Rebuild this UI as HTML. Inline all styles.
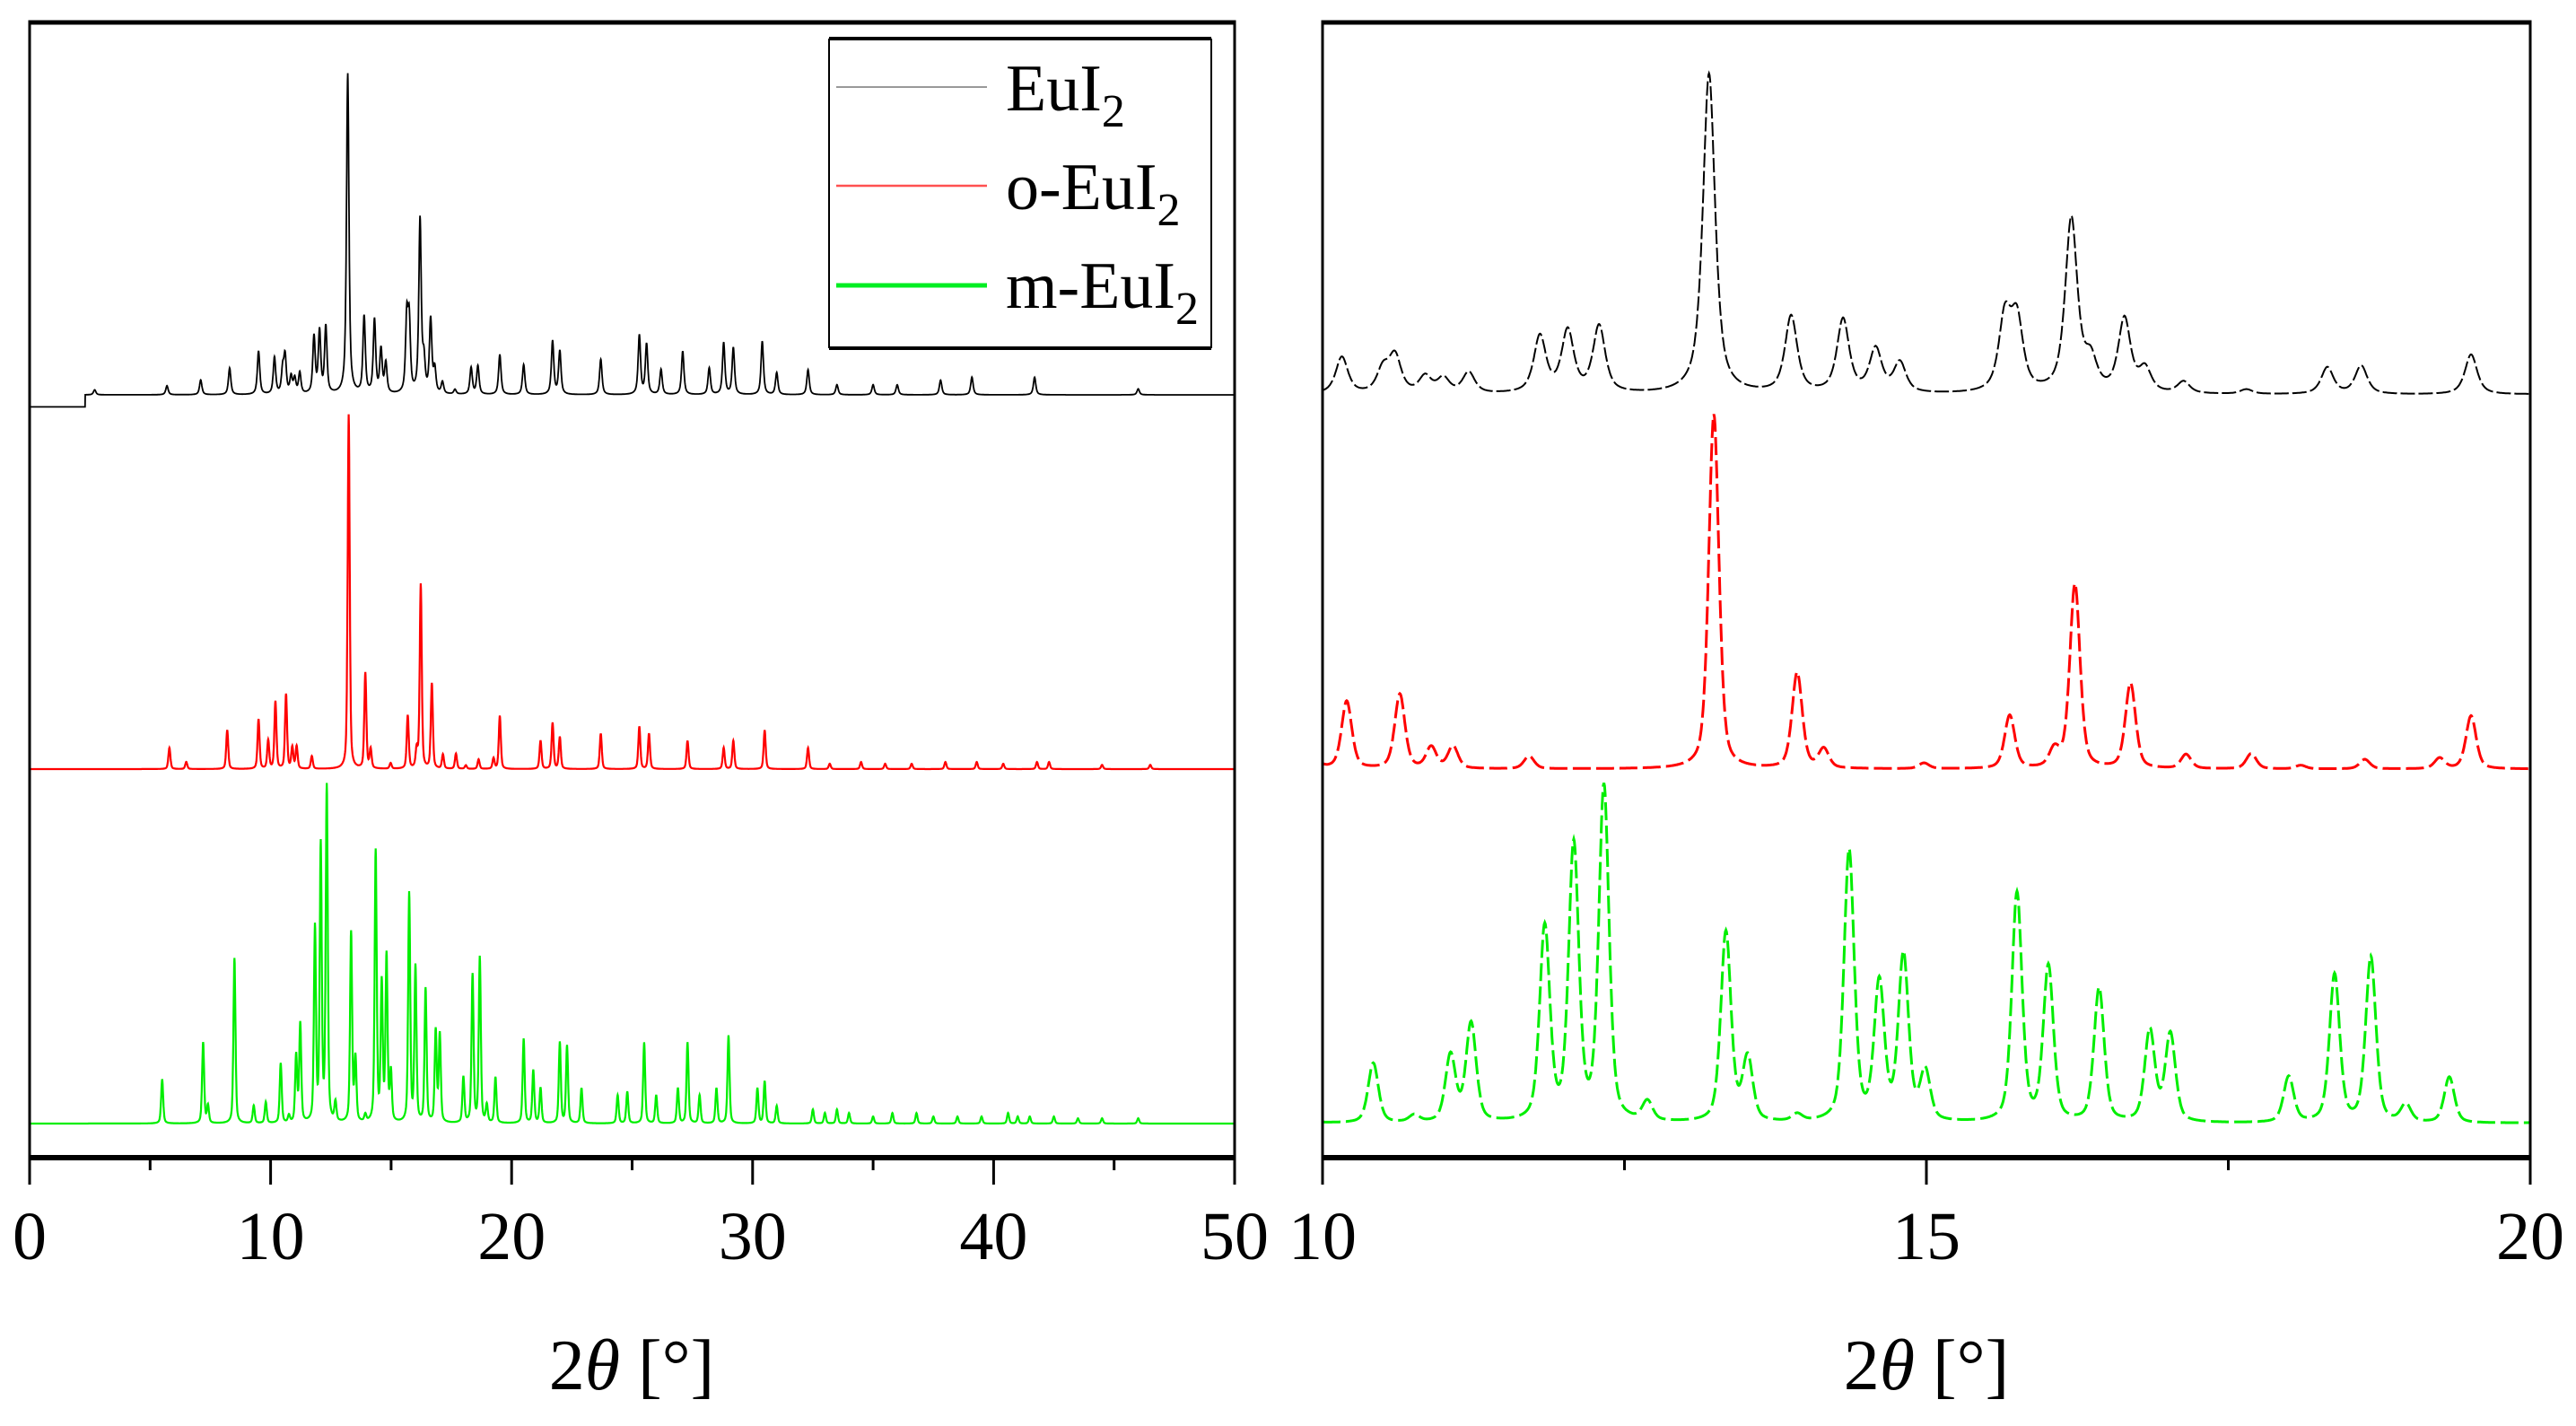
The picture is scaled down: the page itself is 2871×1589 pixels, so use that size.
<!DOCTYPE html>
<html><head><meta charset="utf-8"><style>
html,body{margin:0;padding:0;background:#fff;}
svg{display:block;font-family:"Liberation Serif",serif;}
</style></head><body>
<svg id="chart" width="2871" height="1589" viewBox="0 0 2871 1589" xmlns="http://www.w3.org/2000/svg">
<defs>
<clipPath id="clipL"><rect x="33" y="25" width="1343" height="1265"/></clipPath>
<clipPath id="clipR"><rect x="1474" y="25" width="1346" height="1265"/></clipPath>
</defs>
<g id="plotL" clip-path="url(#clipL)"></g>
<g id="plotR" clip-path="url(#clipR)"></g>
<g id="axes"></g>
<g id="legend">
  <rect x="924" y="43" width="426" height="345" fill="#fff" stroke="none"/>
  <line x1="924" y1="43" x2="1350" y2="43" stroke="#000" stroke-width="4"/>
  <line x1="924" y1="388" x2="1350" y2="388" stroke="#000" stroke-width="4"/>
  <line x1="924" y1="43" x2="924" y2="388" stroke="#000" stroke-width="2"/>
  <line x1="1350" y1="43" x2="1350" y2="388" stroke="#000" stroke-width="2"/>
  <line x1="932" y1="97" x2="1100" y2="97" stroke="#999" stroke-width="2"/>
  <line x1="932" y1="207" x2="1100" y2="207" stroke="#ff5050" stroke-width="2.5"/>
  <line x1="932" y1="318" x2="1100" y2="318" stroke="#00ee22" stroke-width="5"/>
  <text x="1121" y="123" font-size="74">EuI<tspan font-size="52" dy="18">2</tspan></text>
  <text x="1121" y="233" font-size="74">o-EuI<tspan font-size="52" dy="18">2</tspan></text>
  <text x="1121" y="343" font-size="74">m-EuI<tspan font-size="52" dy="18">2</tspan></text>
</g>
<text x="704" y="1548" font-size="80" text-anchor="middle">2<tspan font-style="italic">θ</tspan> [°]</text>
<text x="2147" y="1548" font-size="80" text-anchor="middle">2<tspan font-style="italic">θ</tspan> [°]</text>
</svg>
<script>
// ---- data (2θ positions in degrees, relative intensities) ----
const blackPos = [2.7,5.7,7.1,8.3,9.5,10.16,10.5,10.6,10.85,11.0,11.21,11.8,12.03,12.29,13.2,13.88,14.31,14.58,14.78,15.65,15.75,16.2,16.36,16.64,16.81,17.13,17.65,18.32,18.6,19.51,20.5,21.7,22.0,23.7,25.3,25.6,26.2,27.1,28.2,28.8,29.2,30.4,31.0,32.3,33.5,35.0,36.0,37.8,39.1,41.7,46.0];
const blackInt = [1.5,2.7,4.4,8,13,11,7,11,5,4.5,6.3,17,18.5,20,96,23,22,13,9,22,21,52,9,22,7,3.5,1.4,8,8.5,12,9,16,13,10.6,17.7,15,7.5,13,8,15.5,14,16,6.6,7.5,3,3,3,4.4,5.3,5.3,1.8];
const redPos = [5.8,6.5,8.2,9.5,9.9,10.2,10.64,10.9,11.08,11.71,13.24,13.93,14.15,14.98,15.69,16.06,16.23,16.69,17.15,17.69,18.1,18.63,19.25,19.51,21.2,21.7,22.0,23.7,25.3,25.7,27.3,28.8,29.2,30.5,32.3,33.2,34.5,35.5,36.6,38.0,39.3,40.4,41.8,42.3,44.5,46.5];
const redInt = [6,2,11,14,8,19,21,6,6.3,3.6,100,27,5.4,1.6,15,5,52,24,4,4.3,1,2.7,3,15,8,13,9,10,12,10,8,6,8,11,6,1.5,2,1.5,1.5,2,2,1.5,2,2,1.2,1.2];
const greenPos = [5.5,7.2,7.4,8.5,9.3,9.8,10.42,10.76,11.06,11.23,11.84,12.08,12.33,12.69,13.34,13.52,13.93,14.36,14.61,14.81,14.99,15.75,16.01,16.43,16.85,17.02,18.0,18.38,18.68,18.97,19.33,20.5,20.9,21.2,22.0,22.3,22.9,24.4,24.8,25.5,26.0,26.9,27.3,27.8,28.5,29.0,30.2,30.5,31.0,32.5,33.0,33.5,34.0,35.0,35.8,36.8,37.5,38.5,39.5,40.6,41.0,41.5,42.5,43.5,44.5,46.0];
const greenInt = [12.6,23,5,47,5,6,17,2,19,28,55,78,95,5.5,54,18,2,77,39,47,14,65,44,38,26,25,13,42,47,5,13,24,15,10,23,22,10,8,9,23,8,10,23,8,10,25,10,12,5,4,3,4,3,2,3,3,2,2,2,3,2,2,2,1.5,1.5,1.5];
const leftTicksMajor = [0,10,20,30,40,50];
const leftTicksMinor = [5,15,25,35,45];
const rightTicksMajor = [10,15,20];
const rightTicksMinor = [12.5,17.5];
const blackStart = 2.3;
const blackPreLevel = -3.6;

const NS = "http://www.w3.org/2000/svg";
const xL = v => 33 + v * 26.86;
const xR = v => 1474 + (v - 10) * 134.6;
const series = [
  {pos: blackPos, ints: blackInt, base: 440, scale: 3.72, color: "#000", w: 0.12, eta: 0.7, name: "eui2"},
  {pos: redPos, ints: redInt, base: 857, scale: 3.95, color: "#ff0000", w: 0.1, eta: 0.45, name: "o-eui2"},
  {pos: greenPos, ints: greenInt, base: 1252, scale: 3.92, color: "#00ee00", w: 0.1, eta: 0.45, name: "m-eui2"}
];
function prof(x, s) {
  let y = 0;
  for (let i = 0; i < s.pos.length; i++) {
    const d = (x - s.pos[i]) / (s.w / 2);
    y += s.ints[i] * (s.eta / (1 + d * d) + (1 - s.eta) * Math.exp(-0.693 * d * d));
  }
  return y;
}
function buildPath(s, x0, x1, step, xf, startAt) {
  let d = "";
  for (let x = x0; x <= x1 + 1e-9; x += step) {
    let val;
    if (startAt !== undefined && x < startAt) val = blackPreLevel;
    else val = prof(x, s);
    const px = xf(x), py = s.base - val * s.scale;
    d += (d ? "L" : "M") + px.toFixed(1) + " " + py.toFixed(1);
  }
  return d;
}
const gL = document.getElementById("plotL"), gR = document.getElementById("plotR");
series.forEach((s, k) => {
  const p = document.createElementNS(NS, "path");
  p.setAttribute("d", buildPath(s, 0, 50, 0.01, xL, k === 0 ? blackStart : undefined));
  p.setAttribute("fill", "none");
  p.setAttribute("stroke", s.color);
  p.setAttribute("stroke-width", k === 0 ? "1.8" : "2.2");
  
  
  gL.appendChild(p);
  const q = document.createElementNS(NS, "path");
  q.setAttribute("d", buildPath(s, 10, 20, 0.005, xR));
  q.setAttribute("fill", "none");
  q.setAttribute("stroke", s.color);
  q.setAttribute("stroke-width", k === 0 ? "2" : "3");
  q.setAttribute("stroke-dasharray", k === 0 ? "16 4" : "20 6");
  
  
  gR.appendChild(q);
});
const ax = document.getElementById("axes");
function line(x1, y1, x2, y2, w, name) {
  const l = document.createElementNS(NS, "line");
  l.setAttribute("x1", x1); l.setAttribute("y1", y1);
  l.setAttribute("x2", x2); l.setAttribute("y2", y2);
  l.setAttribute("stroke", "#000"); l.setAttribute("stroke-width", w);
  
  
  ax.appendChild(l);
}
function text(x, y, t, name) {
  const e = document.createElementNS(NS, "text");
  e.setAttribute("x", x); e.setAttribute("y", y);
  e.setAttribute("font-size", "76"); e.setAttribute("text-anchor", "middle");
  e.textContent = t;
  
  
  ax.appendChild(e);
}
[[33, 1376, "left"], [1474, 2820, "right"]].forEach(([a, b, n]) => {
  line(a - 1.5, 25, b + 1.5, 25, 5, n + "-top-border");
  line(a - 1.5, 1290, b + 1.5, 1290, 6, n + "-x-axis-line");
  line(a, 25, a, 1290, 3, n + "-left-border");
  line(b, 25, b, 1290, 3, n + "-right-border");
});
leftTicksMajor.forEach(v => { line(xL(v), 1290, xL(v), 1320, 3, "left-major-tick"); text(xL(v), 1403, String(v), "left-tick-label"); });
leftTicksMinor.forEach(v => line(xL(v), 1290, xL(v), 1304, 3, "left-minor-tick"));
rightTicksMajor.forEach(v => { line(xR(v), 1290, xR(v), 1320, 3, "right-major-tick"); text(xR(v), 1403, String(v), "right-tick-label"); });
rightTicksMinor.forEach(v => line(xR(v), 1290, xR(v), 1304, 3, "right-minor-tick"));
</script>
</body></html>
